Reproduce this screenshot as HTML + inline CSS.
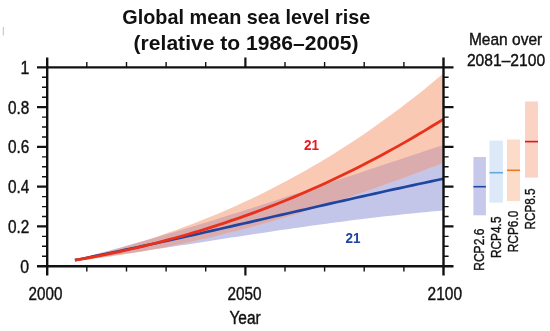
<!DOCTYPE html><html><head><meta charset="utf-8"><title>Global mean sea level rise</title>
<style>html,body{margin:0;padding:0;background:#fff}svg{display:block}svg{font-family:"Liberation Sans",sans-serif;fill:#111}</style></head><body>
<svg width="550" height="331" viewBox="0 0 550 331">
<rect width="550" height="331" fill="#fff"/>
<path d="M74.9,259.6 L81.2,258.0 L87.4,256.4 L93.7,254.8 L99.9,253.1 L106.2,251.4 L112.4,249.8 L118.7,248.0 L124.9,246.3 L131.2,244.6 L137.4,242.8 L143.7,241.0 L149.9,239.2 L156.1,237.4 L162.4,235.6 L168.6,233.7 L174.9,231.9 L181.1,230.0 L187.4,228.1 L193.6,226.2 L199.9,224.3 L206.1,222.4 L212.4,220.5 L218.6,218.6 L224.9,216.6 L231.1,214.6 L237.4,212.7 L243.6,210.7 L249.9,208.7 L256.1,206.7 L262.3,204.7 L268.6,202.7 L274.8,200.7 L281.1,198.6 L287.3,196.6 L293.6,194.6 L299.8,192.5 L306.1,190.5 L312.3,188.4 L318.6,186.4 L324.8,184.3 L331.1,182.2 L337.3,180.2 L343.6,178.1 L349.8,176.0 L356.0,173.9 L362.3,171.9 L368.5,169.8 L374.8,167.7 L381.0,165.6 L387.3,163.5 L393.5,161.5 L399.8,159.4 L406.0,157.3 L412.3,155.2 L418.5,153.2 L424.8,151.1 L431.0,149.0 L437.3,147.0 L443.5,144.9 L443.5,210.5 L437.3,211.1 L431.0,211.6 L424.8,212.2 L418.5,212.8 L412.3,213.4 L406.0,214.1 L399.8,214.7 L393.5,215.4 L387.3,216.1 L381.0,216.8 L374.8,217.5 L368.5,218.3 L362.3,219.0 L356.0,219.8 L349.8,220.6 L343.6,221.4 L337.3,222.2 L331.1,223.1 L324.8,223.9 L318.6,224.8 L312.3,225.6 L306.1,226.5 L299.8,227.4 L293.6,228.3 L287.3,229.2 L281.1,230.1 L274.8,231.0 L268.6,232.0 L262.3,232.9 L256.1,233.8 L249.9,234.8 L243.6,235.7 L237.4,236.7 L231.1,237.6 L224.9,238.6 L218.6,239.6 L212.4,240.5 L206.1,241.5 L199.9,242.4 L193.6,243.4 L187.4,244.4 L181.1,245.3 L174.9,246.3 L168.6,247.2 L162.4,248.2 L156.1,249.1 L149.9,250.1 L143.7,251.0 L137.4,252.0 L131.2,252.9 L124.9,253.8 L118.7,254.7 L112.4,255.6 L106.2,256.5 L99.9,257.4 L93.7,258.3 L87.4,259.1 L81.2,260.0 L74.9,260.8Z" fill="#c3c6e8"/>
<clipPath id="cb"><path d="M74.9,259.6 L81.2,258.0 L87.4,256.4 L93.7,254.8 L99.9,253.1 L106.2,251.4 L112.4,249.8 L118.7,248.0 L124.9,246.3 L131.2,244.6 L137.4,242.8 L143.7,241.0 L149.9,239.2 L156.1,237.4 L162.4,235.6 L168.6,233.7 L174.9,231.9 L181.1,230.0 L187.4,228.1 L193.6,226.2 L199.9,224.3 L206.1,222.4 L212.4,220.5 L218.6,218.6 L224.9,216.6 L231.1,214.6 L237.4,212.7 L243.6,210.7 L249.9,208.7 L256.1,206.7 L262.3,204.7 L268.6,202.7 L274.8,200.7 L281.1,198.6 L287.3,196.6 L293.6,194.6 L299.8,192.5 L306.1,190.5 L312.3,188.4 L318.6,186.4 L324.8,184.3 L331.1,182.2 L337.3,180.2 L343.6,178.1 L349.8,176.0 L356.0,173.9 L362.3,171.9 L368.5,169.8 L374.8,167.7 L381.0,165.6 L387.3,163.5 L393.5,161.5 L399.8,159.4 L406.0,157.3 L412.3,155.2 L418.5,153.2 L424.8,151.1 L431.0,149.0 L437.3,147.0 L443.5,144.9 L443.5,210.5 L437.3,211.1 L431.0,211.6 L424.8,212.2 L418.5,212.8 L412.3,213.4 L406.0,214.1 L399.8,214.7 L393.5,215.4 L387.3,216.1 L381.0,216.8 L374.8,217.5 L368.5,218.3 L362.3,219.0 L356.0,219.8 L349.8,220.6 L343.6,221.4 L337.3,222.2 L331.1,223.1 L324.8,223.9 L318.6,224.8 L312.3,225.6 L306.1,226.5 L299.8,227.4 L293.6,228.3 L287.3,229.2 L281.1,230.1 L274.8,231.0 L268.6,232.0 L262.3,232.9 L256.1,233.8 L249.9,234.8 L243.6,235.7 L237.4,236.7 L231.1,237.6 L224.9,238.6 L218.6,239.6 L212.4,240.5 L206.1,241.5 L199.9,242.4 L193.6,243.4 L187.4,244.4 L181.1,245.3 L174.9,246.3 L168.6,247.2 L162.4,248.2 L156.1,249.1 L149.9,250.1 L143.7,251.0 L137.4,252.0 L131.2,252.9 L124.9,253.8 L118.7,254.7 L112.4,255.6 L106.2,256.5 L99.9,257.4 L93.7,258.3 L87.4,259.1 L81.2,260.0 L74.9,260.8Z"/></clipPath>
<path d="M74.9,259.6 L81.2,258.2 L87.4,256.6 L93.7,255.1 L99.9,253.5 L106.2,251.8 L112.4,250.1 L118.7,248.4 L124.9,246.6 L131.2,244.7 L137.4,242.8 L143.7,240.9 L149.9,238.9 L156.1,236.9 L162.4,234.8 L168.6,232.6 L174.9,230.4 L181.1,228.1 L187.4,225.8 L193.6,223.4 L199.9,221.0 L206.1,218.5 L212.4,216.0 L218.6,213.4 L224.9,210.7 L231.1,208.0 L237.4,205.2 L243.6,202.3 L249.9,199.4 L256.1,196.4 L262.3,193.4 L268.6,190.3 L274.8,187.1 L281.1,183.8 L287.3,180.5 L293.6,177.1 L299.8,173.7 L306.1,170.2 L312.3,166.6 L318.6,162.9 L324.8,159.2 L331.1,155.4 L337.3,151.5 L343.6,147.5 L349.8,143.5 L356.0,139.4 L362.3,135.2 L368.5,130.9 L374.8,126.6 L381.0,122.1 L387.3,117.6 L393.5,113.1 L399.8,108.4 L406.0,103.6 L412.3,98.8 L418.5,93.9 L424.8,88.9 L431.0,83.8 L437.3,78.6 L443.5,73.4 L443.5,162.8 L437.3,165.2 L431.0,167.6 L424.8,170.0 L418.5,172.3 L412.3,174.7 L406.0,177.0 L399.8,179.3 L393.5,181.6 L387.3,183.8 L381.0,186.1 L374.8,188.3 L368.5,190.5 L362.3,192.6 L356.0,194.8 L349.8,196.9 L343.6,199.0 L337.3,201.1 L331.1,203.1 L324.8,205.2 L318.6,207.2 L312.3,209.1 L306.1,211.1 L299.8,213.0 L293.6,214.9 L287.3,216.8 L281.1,218.6 L274.8,220.4 L268.6,222.2 L262.3,224.0 L256.1,225.7 L249.9,227.4 L243.6,229.0 L237.4,230.7 L231.1,232.3 L224.9,233.8 L218.6,235.4 L212.4,236.9 L206.1,238.4 L199.9,239.8 L193.6,241.2 L187.4,242.6 L181.1,243.9 L174.9,245.2 L168.6,246.5 L162.4,247.7 L156.1,248.9 L149.9,250.0 L143.7,251.2 L137.4,252.2 L131.2,253.3 L124.9,254.3 L118.7,255.2 L112.4,256.2 L106.2,257.0 L99.9,257.9 L93.7,258.7 L87.4,259.4 L81.2,260.2 L74.9,260.8Z" fill="#f9c9b4"/>
<path d="M74.9,259.6 L81.2,258.2 L87.4,256.6 L93.7,255.1 L99.9,253.5 L106.2,251.8 L112.4,250.1 L118.7,248.4 L124.9,246.6 L131.2,244.7 L137.4,242.8 L143.7,240.9 L149.9,238.9 L156.1,236.9 L162.4,234.8 L168.6,232.6 L174.9,230.4 L181.1,228.1 L187.4,225.8 L193.6,223.4 L199.9,221.0 L206.1,218.5 L212.4,216.0 L218.6,213.4 L224.9,210.7 L231.1,208.0 L237.4,205.2 L243.6,202.3 L249.9,199.4 L256.1,196.4 L262.3,193.4 L268.6,190.3 L274.8,187.1 L281.1,183.8 L287.3,180.5 L293.6,177.1 L299.8,173.7 L306.1,170.2 L312.3,166.6 L318.6,162.9 L324.8,159.2 L331.1,155.4 L337.3,151.5 L343.6,147.5 L349.8,143.5 L356.0,139.4 L362.3,135.2 L368.5,130.9 L374.8,126.6 L381.0,122.1 L387.3,117.6 L393.5,113.1 L399.8,108.4 L406.0,103.6 L412.3,98.8 L418.5,93.9 L424.8,88.9 L431.0,83.8 L437.3,78.6 L443.5,73.4 L443.5,162.8 L437.3,165.2 L431.0,167.6 L424.8,170.0 L418.5,172.3 L412.3,174.7 L406.0,177.0 L399.8,179.3 L393.5,181.6 L387.3,183.8 L381.0,186.1 L374.8,188.3 L368.5,190.5 L362.3,192.6 L356.0,194.8 L349.8,196.9 L343.6,199.0 L337.3,201.1 L331.1,203.1 L324.8,205.2 L318.6,207.2 L312.3,209.1 L306.1,211.1 L299.8,213.0 L293.6,214.9 L287.3,216.8 L281.1,218.6 L274.8,220.4 L268.6,222.2 L262.3,224.0 L256.1,225.7 L249.9,227.4 L243.6,229.0 L237.4,230.7 L231.1,232.3 L224.9,233.8 L218.6,235.4 L212.4,236.9 L206.1,238.4 L199.9,239.8 L193.6,241.2 L187.4,242.6 L181.1,243.9 L174.9,245.2 L168.6,246.5 L162.4,247.7 L156.1,248.9 L149.9,250.0 L143.7,251.2 L137.4,252.2 L131.2,253.3 L124.9,254.3 L118.7,255.2 L112.4,256.2 L106.2,257.0 L99.9,257.9 L93.7,258.7 L87.4,259.4 L81.2,260.2 L74.9,260.8Z" fill="#daacad" clip-path="url(#cb)"/>
<path d="M74.9,260.2 L81.2,259.0 L87.4,257.7 L93.7,256.4 L99.9,255.2 L106.2,253.9 L112.4,252.6 L118.7,251.3 L124.9,249.9 L131.2,248.6 L137.4,247.3 L143.7,245.9 L149.9,244.5 L156.1,243.2 L162.4,241.8 L168.6,240.4 L174.9,239.0 L181.1,237.7 L187.4,236.3 L193.6,234.9 L199.9,233.5 L206.1,232.0 L212.4,230.6 L218.6,229.2 L224.9,227.8 L231.1,226.4 L237.4,224.9 L243.6,223.5 L249.9,222.1 L256.1,220.6 L262.3,219.2 L268.6,217.8 L274.8,216.3 L281.1,214.9 L287.3,213.5 L293.6,212.0 L299.8,210.6 L306.1,209.2 L312.3,207.7 L318.6,206.3 L324.8,204.9 L331.1,203.4 L337.3,202.0 L343.6,200.6 L349.8,199.2 L356.0,197.8 L362.3,196.4 L368.5,195.0 L374.8,193.6 L381.0,192.2 L387.3,190.8 L393.5,189.4 L399.8,188.1 L406.0,186.7 L412.3,185.4 L418.5,184.0 L424.8,182.7 L431.0,181.4 L437.3,180.0 L443.5,178.7" fill="none" stroke="#1f45a0" stroke-width="2.7"/>
<path d="M74.9,260.2 L81.2,259.1 L87.4,258.0 L93.7,256.8 L99.9,255.6 L106.2,254.4 L112.4,253.1 L118.7,251.8 L124.9,250.4 L131.2,249.0 L137.4,247.6 L143.7,246.1 L149.9,244.5 L156.1,243.0 L162.4,241.4 L168.6,239.7 L174.9,238.0 L181.1,236.3 L187.4,234.5 L193.6,232.6 L199.9,230.8 L206.1,228.9 L212.4,226.9 L218.6,224.9 L224.9,222.8 L231.1,220.7 L237.4,218.6 L243.6,216.4 L249.9,214.1 L256.1,211.9 L262.3,209.5 L268.6,207.1 L274.8,204.7 L281.1,202.2 L287.3,199.7 L293.6,197.1 L299.8,194.5 L306.1,191.8 L312.3,189.0 L318.6,186.3 L324.8,183.4 L331.1,180.5 L337.3,177.6 L343.6,174.6 L349.8,171.5 L356.0,168.4 L362.3,165.3 L368.5,162.0 L374.8,158.8 L381.0,155.5 L387.3,152.1 L393.5,148.6 L399.8,145.1 L406.0,141.6 L412.3,138.0 L418.5,134.3 L424.8,130.6 L431.0,126.8 L437.3,123.0 L443.5,119.1" fill="none" stroke="#e8301a" stroke-width="2.8" stroke-linecap="butt"/>
<g stroke="#111" fill="none">
<path d="M47.2,57.4 V275.6 M443.5,57.4 V275.6 M37,67.4 H453.5 M37,266.2 H453.5" stroke-width="2.4"/>
<path d="M245.4,57.4 V67.4 M245.4,266.2 V275.6" stroke-width="2.2"/>
<path d="M37,226.4 H47.2 M443.5,226.4 H453.5 M37,186.7 H47.2 M443.5,186.7 H453.5 M37,146.9 H47.2 M443.5,146.9 H453.5 M37,107.2 H47.2 M443.5,107.2 H453.5 " stroke-width="2.2"/>
<path d="M86.8,62 V67.4 M86.8,266.2 V271.5 M126.5,62 V67.4 M126.5,266.2 V271.5 M166.1,62 V67.4 M166.1,266.2 V271.5 M205.7,62 V67.4 M205.7,266.2 V271.5 M285.0,62 V67.4 M285.0,266.2 V271.5 M324.6,62 V67.4 M324.6,266.2 V271.5 M364.2,62 V67.4 M364.2,266.2 V271.5 M403.9,62 V67.4 M403.9,266.2 V271.5 M42,256.3 H47.2 M443.5,256.3 H448.6 M42,246.3 H47.2 M443.5,246.3 H448.6 M42,236.4 H47.2 M443.5,236.4 H448.6 M42,216.5 H47.2 M443.5,216.5 H448.6 M42,206.6 H47.2 M443.5,206.6 H448.6 M42,196.6 H47.2 M443.5,196.6 H448.6 M42,176.7 H47.2 M443.5,176.7 H448.6 M42,166.8 H47.2 M443.5,166.8 H448.6 M42,156.9 H47.2 M443.5,156.9 H448.6 M42,137.0 H47.2 M443.5,137.0 H448.6 M42,127.0 H47.2 M443.5,127.0 H448.6 M42,117.1 H47.2 M443.5,117.1 H448.6 M42,97.2 H47.2 M443.5,97.2 H448.6 M42,87.3 H47.2 M443.5,87.3 H448.6 M42,77.3 H47.2 M443.5,77.3 H448.6 " stroke-width="1.4"/>
</g>
<path d="M3.3,27 V35.5" stroke="#b5b5b5" stroke-width="0.9"/>
<text x="122.3" y="23.6" font-size="19.8" text-anchor="start" font-weight="bold" textLength="248" lengthAdjust="spacingAndGlyphs">Global mean sea level rise</text>
<text x="133.6" y="50.3" font-size="19.8" text-anchor="start" font-weight="bold" textLength="225" lengthAdjust="spacingAndGlyphs">(relative to 1986–2005)</text>
<text x="20.5" y="73.7" font-size="18" text-anchor="start" stroke="#111" stroke-width="0.4" textLength="8.8" lengthAdjust="spacingAndGlyphs">1</text>
<text x="7.9" y="113.5" font-size="18" text-anchor="start" stroke="#111" stroke-width="0.4" textLength="21.3" lengthAdjust="spacingAndGlyphs">0.8</text>
<text x="7.9" y="153.2" font-size="18" text-anchor="start" stroke="#111" stroke-width="0.4" textLength="21.3" lengthAdjust="spacingAndGlyphs">0.6</text>
<text x="7.9" y="193.0" font-size="18" text-anchor="start" stroke="#111" stroke-width="0.4" textLength="21.3" lengthAdjust="spacingAndGlyphs">0.4</text>
<text x="7.9" y="232.7" font-size="18" text-anchor="start" stroke="#111" stroke-width="0.4" textLength="21.3" lengthAdjust="spacingAndGlyphs">0.2</text>
<text x="20.3" y="272.5" font-size="18" text-anchor="start" stroke="#111" stroke-width="0.4" textLength="8.8" lengthAdjust="spacingAndGlyphs">0</text>
<text x="28.6" y="300" font-size="18" text-anchor="start" stroke="#111" stroke-width="0.4" textLength="33.8" lengthAdjust="spacingAndGlyphs">2000</text>
<text x="227.5" y="300" font-size="18" text-anchor="start" stroke="#111" stroke-width="0.4" textLength="34.1" lengthAdjust="spacingAndGlyphs">2050</text>
<text x="427.6" y="299.6" font-size="18" text-anchor="start" stroke="#111" stroke-width="0.4" textLength="34.4" lengthAdjust="spacingAndGlyphs">2100</text>
<text x="229.4" y="323.5" font-size="18" text-anchor="start" stroke="#111" stroke-width="0.4" textLength="31.3" lengthAdjust="spacingAndGlyphs">Year</text>
<text x="468.9" y="45" font-size="17.2" text-anchor="start" stroke="#111" stroke-width="0.4" textLength="73.4" lengthAdjust="spacingAndGlyphs">Mean over</text>
<text x="466.9" y="65.9" font-size="17.2" text-anchor="start" stroke="#111" stroke-width="0.4" textLength="78.2" lengthAdjust="spacingAndGlyphs">2081–2100</text>
<text x="304.0" y="150" font-size="15.3" text-anchor="start" font-weight="bold" fill="#e8161f" textLength="15" lengthAdjust="spacingAndGlyphs">21</text>
<text x="345.4" y="242.5" font-size="15.3" text-anchor="start" font-weight="bold" fill="#2144a0" textLength="15" lengthAdjust="spacingAndGlyphs">21</text>
<rect x="473.4" y="157" width="12.5" height="58.3" fill="#c6c9e9"/>
<rect x="473.4" y="185.9" width="12.5" height="1.6" fill="#1f45a0"/>
<rect x="489.5" y="140.6" width="13.4" height="62.1" fill="#dde9f8"/>
<rect x="489.5" y="171.9" width="13.4" height="1.6" fill="#64a8e0"/>
<rect x="507" y="139.5" width="13.0" height="61.6" fill="#fcdcc8"/>
<rect x="507" y="169.5" width="13.0" height="1.6" fill="#ee7a22"/>
<rect x="525" y="101.5" width="13.0" height="76.1" fill="#fad3c4"/>
<rect x="525" y="140.8" width="13.0" height="1.6" fill="#e8121e"/>
<text transform="translate(484.4,270.8) rotate(-90)" font-size="15" stroke="#111" stroke-width="0.35" textLength="42.2" lengthAdjust="spacingAndGlyphs">RCP2.6</text>
<text transform="translate(500.7,258) rotate(-90)" font-size="15" stroke="#111" stroke-width="0.35" textLength="41.5" lengthAdjust="spacingAndGlyphs">RCP4.5</text>
<text transform="translate(518.3,252.2) rotate(-90)" font-size="15" stroke="#111" stroke-width="0.35" textLength="41.5" lengthAdjust="spacingAndGlyphs">RCP6.0</text>
<text transform="translate(535.2,229.4) rotate(-90)" font-size="15" stroke="#111" stroke-width="0.35" textLength="41" lengthAdjust="spacingAndGlyphs">RCP8.5</text>
</svg></body></html>
